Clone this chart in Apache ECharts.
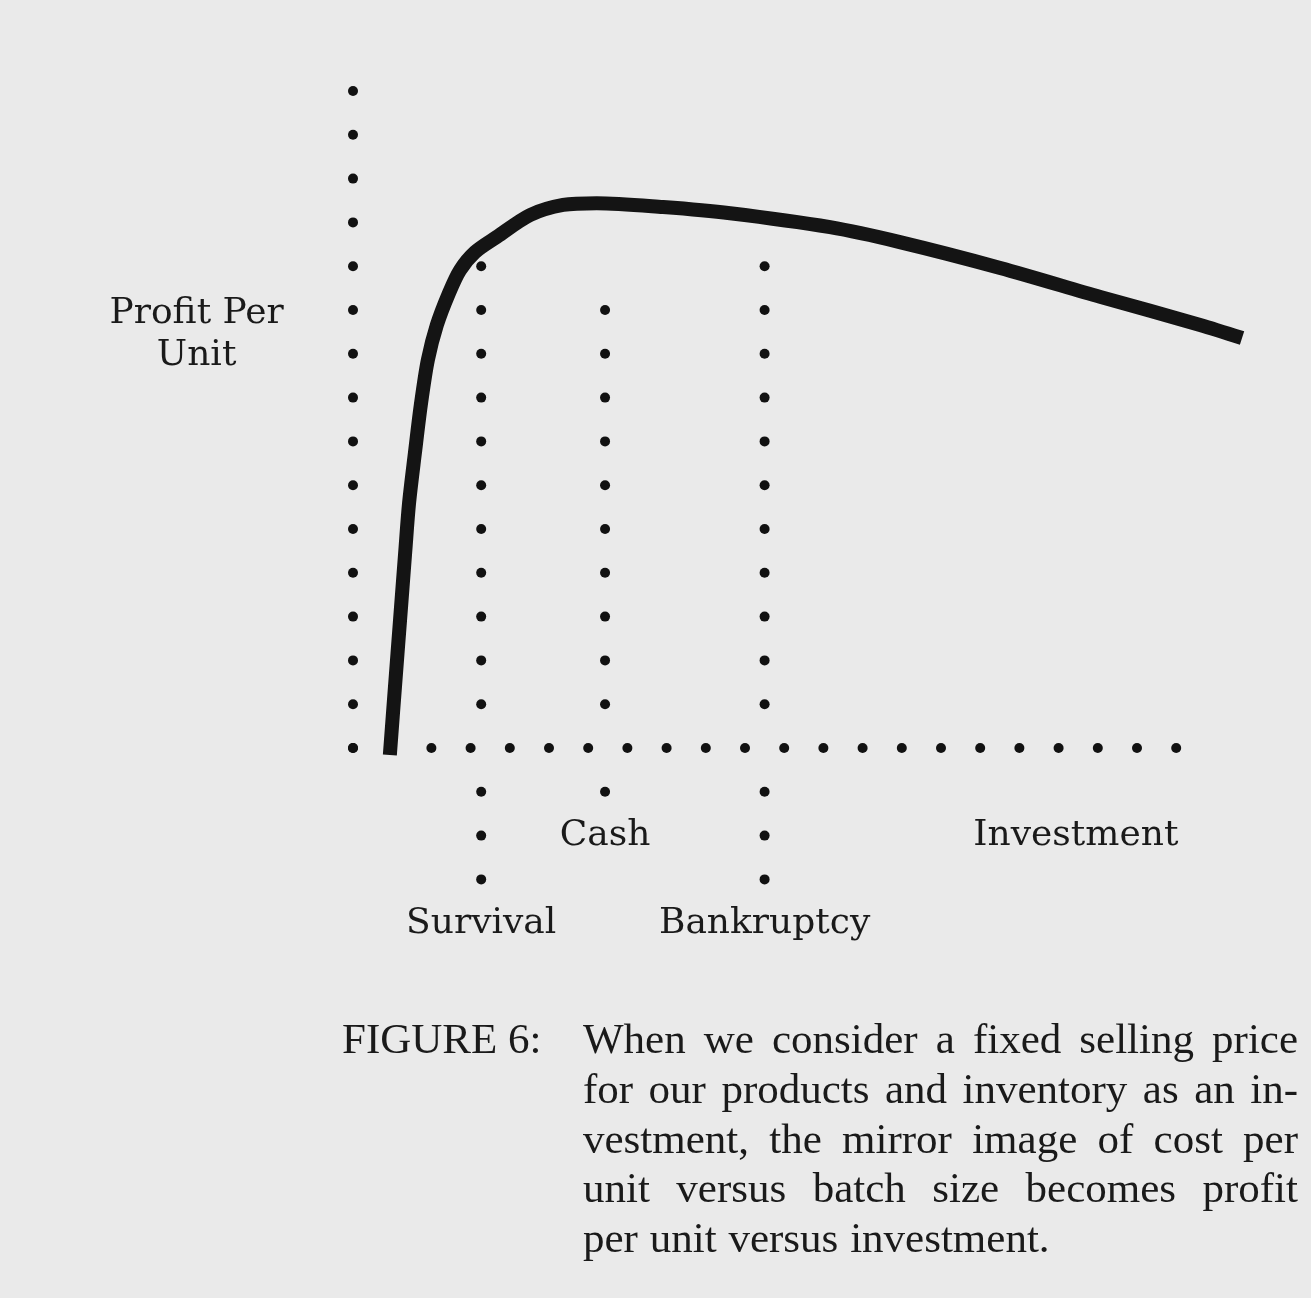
<!DOCTYPE html>
<html><head><meta charset="utf-8">
<script src="https://cdn.jsdelivr.net/npm/echarts@6/dist/echarts.min.js"></script>
<style>html,body{margin:0;padding:0;background:#eaeaea}#c{width:1311px;height:1298px}</style>
</head><body><div id="c"></div>
<script>
// ---- data ----
const yAxisDotsY = [0,1,2,3,4,5,6,7,8,9,10,11,12,13,14,15];
const xAxisDotsX = [0,2,3,4,5,6,7,8,9,10,11,12,13,14,15,16,17,18,19,20,21];
const guideNames = ['Survival','Cash','Bankruptcy'];
const guideX = [3.27, 6.43, 10.5];
const survivalDotsY = [-3,-2,-1,1,2,3,4,5,6,7,8,9,10,11];
const cashDotsY = [-1,1,2,3,4,5,6,7,8,9,10];
const bankruptcyDotsY = [-3,-2,-1,1,2,3,4,5,6,7,8,9,10,11];
const curveX = [0.94,1.07,1.20,1.33,1.43,1.58,1.73,1.91,2.14,2.45,2.73,3.11,3.67,4.52,5.36,6.22,7.91,9.62,12.17,13.95,16.51,19.06,21.61,22.68];
const curveY = [-0.16,1.39,2.92,4.45,5.59,6.74,7.83,8.86,9.66,10.39,10.91,11.32,11.67,12.17,12.40,12.44,12.35,12.21,11.89,11.55,10.96,10.30,9.66,9.36];
const labelNames = ['Profit Per\nUnit','Survival','Cash','Bankruptcy','Investment'];
const labelX = [-3.99, 3.27, 6.43, 10.5, 18.44];
const labelY = [9.44, -4, -2, -4, -2];
const captionHead = 'FIGURE 6:';
const captionLines = [
  'When we consider a fixed selling price',
  'for our products and inventory as an in-',
  'vestment, the mirror image of cost per',
  'unit versus batch size becomes profit',
  'per unit versus investment.'
];

// ---- build ----
const dots = [];
yAxisDotsY.forEach(y => dots.push([0, y]));
xAxisDotsX.forEach(x => dots.push([x, 0]));
survivalDotsY.forEach(y => dots.push([guideX[0], y]));
cashDotsY.forEach(y => dots.push([guideX[1], y]));
bankruptcyDotsY.forEach(y => dots.push([guideX[2], y]));
const curve = curveX.map((x, i) => [x, curveY[i]]);
const labels = labelNames.map((n, i) => ({ name: n, value: [labelX[i], labelY[i]] }));

const capSize = 43;
const capFont = capSize + 'px "Liberation Serif"';
const ctx = document.createElement('canvas').getContext('2d');
ctx.font = capFont;
const graphics = [];
function addWord(text, x, baseline) {
  graphics.push({ type: 'text', x: x, y: baseline - 0.3 * capSize,
    style: { text: text, font: capFont, fill: '#1a1a1a', verticalAlign: 'middle', align: 'left' } });
}
const capX0 = 583, capX1 = 1298, capBase0 = 1055, capStep = 49.7;
addWord(captionHead, 342, capBase0);
captionLines.forEach((line, li) => {
  const words = line.split(' ');
  const widths = words.map(w => ctx.measureText(w).width);
  const total = widths.reduce((a, b) => a + b, 0);
  const last = li === captionLines.length - 1;
  const gap = last ? ctx.measureText(' ').width * 1.1 : (capX1 - capX0 - total) / (words.length - 1);
  let x = capX0;
  const base = capBase0 + li * capStep;
  words.forEach((w, i) => { addWord(w, x, base); x += widths[i] + gap; });
});

const chart = echarts.init(document.getElementById('c'));
chart.setOption({
  backgroundColor: '#eaeaea',
  animation: false,
  grid: { left: 0.2, right: 17.2, top: 47.2, bottom: 374.8 },
  xAxis: { type: 'value', min: -9, max: 24, show: false },
  yAxis: { type: 'value', min: -4, max: 16, show: false },
  series: [
    { type: 'scatter', data: dots, symbol: 'circle', symbolSize: 10,
      itemStyle: { color: '#111111', opacity: 1 }, z: 2, silent: true },
    { type: 'line', data: curve, smooth: 0.3, showSymbol: false, z: 3,
      lineStyle: { color: '#141414', width: 14, cap: 'butt', join: 'round', opacity: 1 } },
    { type: 'scatter', data: labels, symbolSize: 0, clip: false, z: 4,
      itemStyle: { opacity: 1 },
      label: { show: true, position: 'inside', formatter: '{b}',
        fontFamily: 'DejaVu Serif', fontSize: 36, lineHeight: 42, color: '#1a1a1a', align: 'center' } }
  ],
  graphic: graphics
});
</script></body></html>
